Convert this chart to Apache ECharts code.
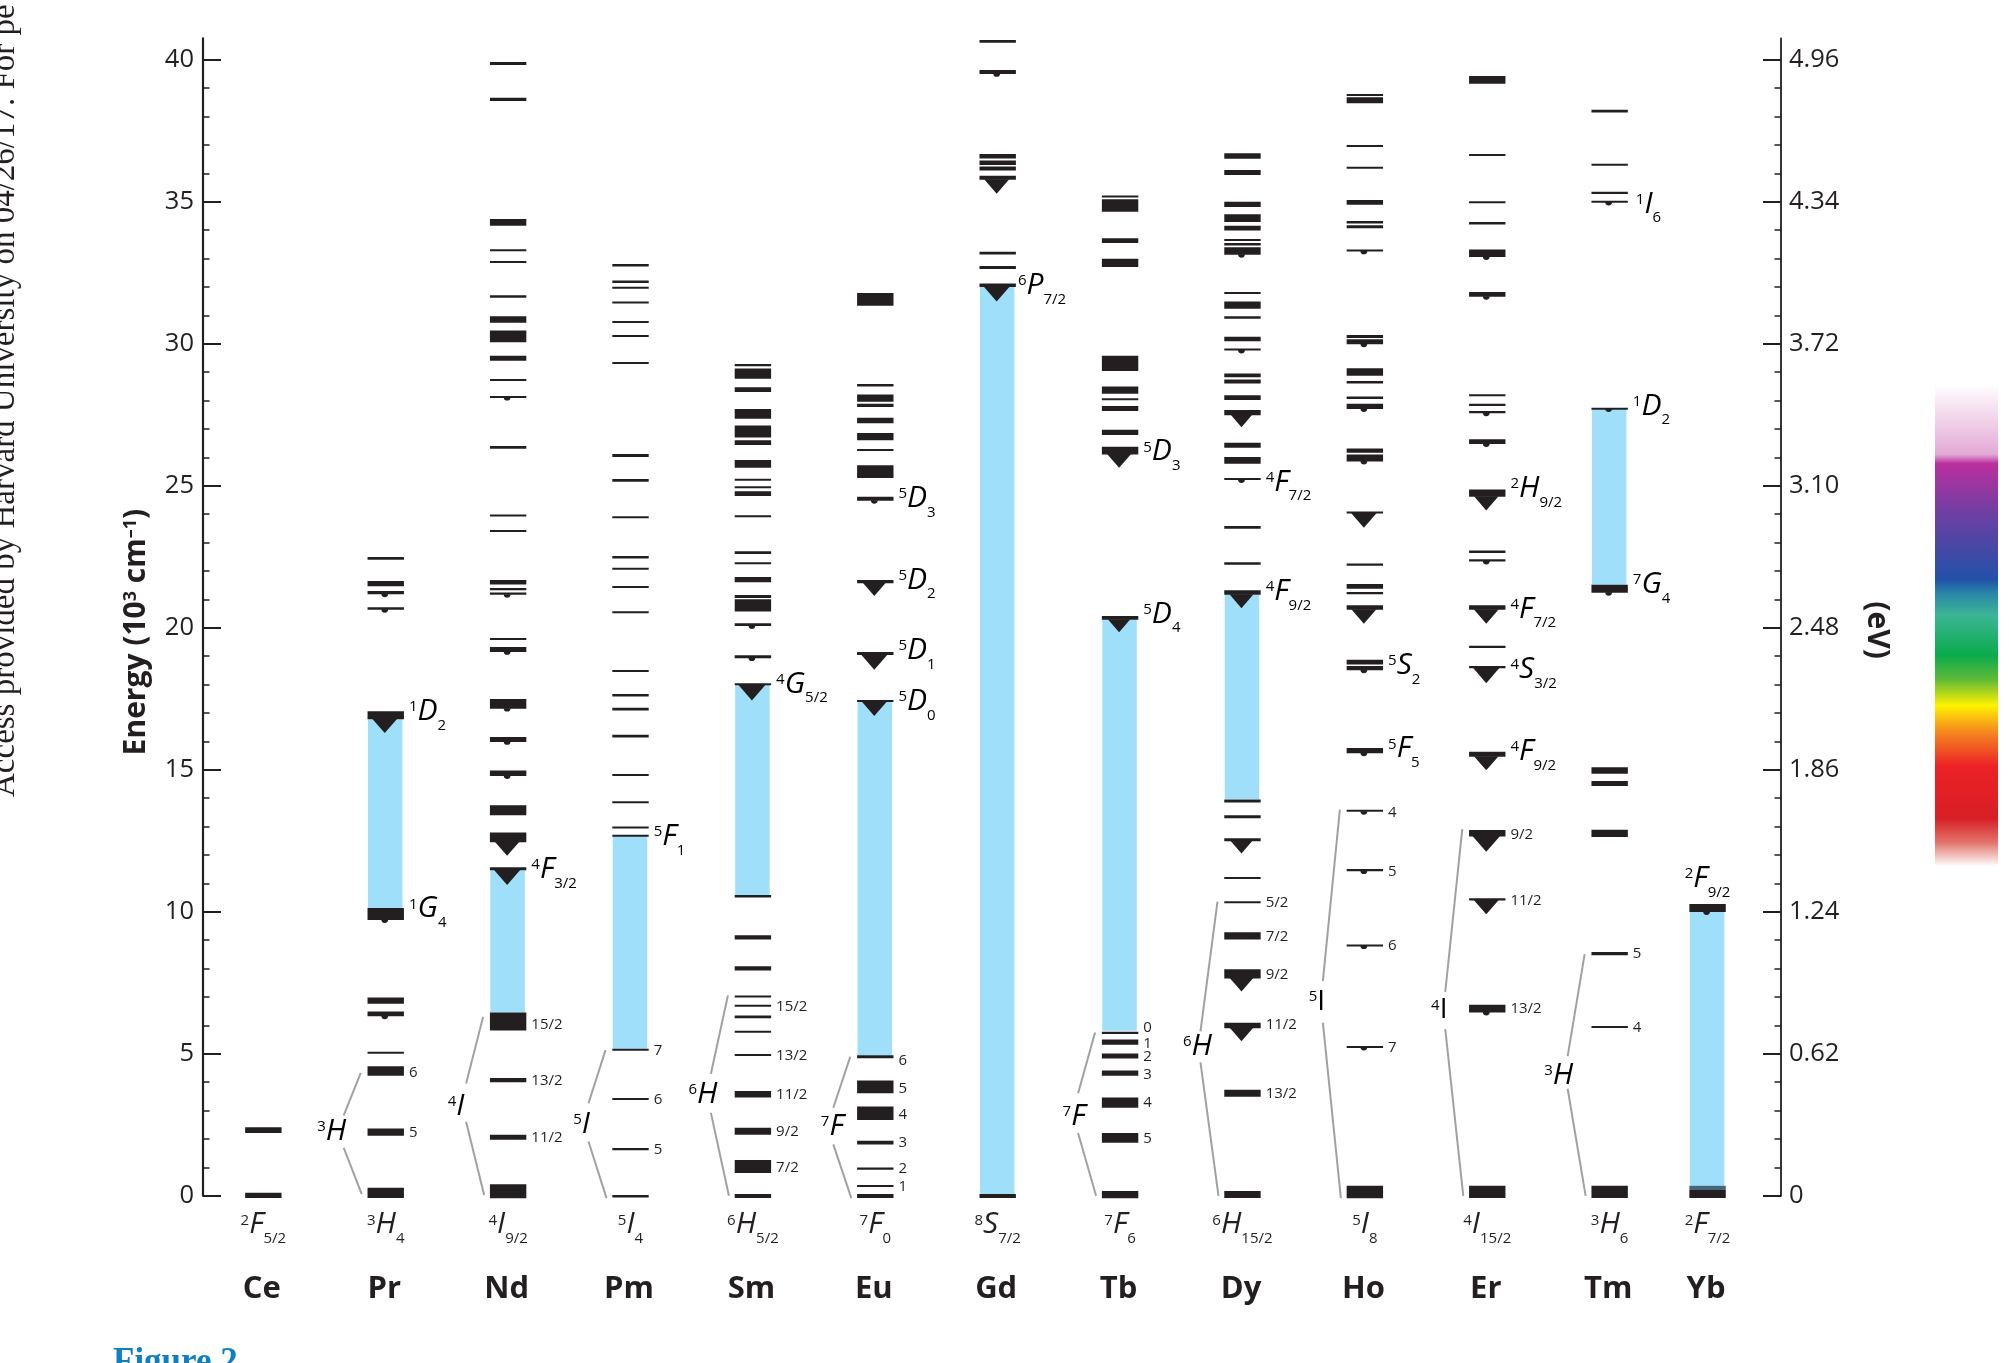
<!DOCTYPE html>
<html>
<head>
<meta charset="utf-8">
<title>Dieke diagram</title>
<script src="https://cdn.jsdelivr.net/npm/echarts@6/dist/echarts.min.js"></script>
<style>
  html, body { margin: 0; padding: 0; background: #fff; overflow: hidden; }
  #main { width: 2009px; height: 1363px; }
</style>
</head>
<body>
<div id="main"></div>
<script>
// energies in 10^3 cm-1, each level is [top, bottom] and an optional third item:
// 'dot' = small dot under the level, a number = tip energy of the triangle under it
const ceLevels = [[2.41, 2.21], [0.11, -0.08]];
const prLevels = [[22.49, 22.39], [21.65, 21.46], [21.29, 21.18, 'dot'], [20.72, 20.63, 'dot'],
  [17.06, 16.78, 16.29], [10.13, 9.71, 'dot'], [6.98, 6.76], [6.49, 6.32, 'dot'], [5.07, 5.01],
  [4.56, 4.23], [2.37, 2.11], [0.28, -0.08]];
const ndLevels = [[39.92, 39.81], [38.66, 38.55], [34.39, 34.15], [33.33, 33.29], [32.91, 32.86],
  [31.71, 31.62], [30.97, 30.74], [30.47, 30.05], [29.58, 29.40], [28.76, 28.69], [28.16, 28.10, 'dot'],
  [26.40, 26.30], [23.99, 23.95], [23.44, 23.38], [21.68, 21.52], [21.40, 21.32], [21.24, 21.16, 'dot'],
  [19.64, 19.58], [19.32, 19.15, 'dot'], [17.49, 17.15, 'dot'], [16.15, 15.98, 'dot'], [14.97, 14.78, 'dot'],
  [13.75, 13.40], [12.79, 12.45, 11.97], [11.57, 11.46, 10.94], [6.45, 5.82], [4.15, 4.00], [2.15, 1.97],
  [0.41, -0.09]];
const pmLevels = [[32.81, 32.72], [32.23, 32.14], [32.01, 31.95], [31.49, 31.45], [30.80, 30.75],
  [30.31, 30.27], [29.36, 29.31], [26.12, 26.01], [25.24, 25.14], [23.93, 23.88], [22.53, 22.44],
  [22.11, 22.05], [21.47, 21.42], [20.58, 20.54], [18.51, 18.46], [17.67, 17.58], [17.18, 17.09],
  [16.23, 16.14], [14.85, 14.80], [13.89, 13.83], [13.00, 12.94], [12.71, 12.65], [5.18, 5.12],
  [3.44, 3.37], [1.68, 1.60], [0.03, -0.06]];
const smLevels = [[29.29, 29.21], [29.13, 28.77], [28.47, 28.30], [27.70, 27.36], [27.12, 26.70],
  [26.60, 26.43], [25.91, 25.63], [25.25, 25.22], [24.98, 24.91], [24.81, 24.64], [23.96, 23.92],
  [22.69, 22.60], [22.31, 22.26], [21.79, 21.60], [21.15, 21.05], [21.00, 20.57], [20.16, 20.06, 'dot'],
  [19.03, 18.93, 'dot'], [18.05, 17.99, 17.44], [10.59, 10.50], [9.17, 9.02], [8.08, 7.93], [7.05, 6.99],
  [6.73, 6.69], [6.35, 6.25], [5.81, 5.75], [4.99, 4.92], [3.69, 3.46], [2.40, 2.15], [1.26, 0.80],
  [0.06, -0.08]];
const euLevels = [[31.79, 31.34], [28.58, 28.49], [28.21, 27.96], [27.89, 27.77], [27.39, 27.20],
  [26.86, 26.60], [26.29, 26.23], [25.72, 25.27], [24.61, 24.47, 'dot'], [21.68, 21.57, 21.12],
  [19.15, 19.04, 18.52], [17.46, 17.40, 16.89], [4.95, 4.84], [4.06, 3.61], [3.14, 2.67], [1.94, 1.81],
  [1.00, 0.92], [0.38, 0.34], [0.06, -0.08]];
const gdLevels = [[40.69, 40.60], [39.64, 39.50, 'dot'], [36.68, 36.52], [36.45, 36.29], [36.24, 36.10],
  [35.91, 35.77, 35.28], [33.24, 33.14], [32.74, 32.63], [32.12, 32.00, 31.49], [0.06, -0.08]];
const tbLevels = [[35.22, 35.16], [35.09, 34.65], [33.71, 33.55], [32.99, 32.70], [29.58, 29.04],
  [28.49, 28.24], [28.08, 28.02], [27.81, 27.63], [26.97, 26.79], [26.37, 26.10, 25.63], [20.41, 20.28, 19.84],
  [5.78, 5.70], [5.50, 5.32], [5.01, 4.83], [4.41, 4.23], [3.46, 3.10], [2.21, 1.87], [0.17, -0.09]];
const dyLevels = [[36.71, 36.51], [36.12, 35.94], [35.00, 34.81], [34.56, 34.29], [34.15, 33.99],
  [33.69, 33.62], [33.55, 33.46], [33.40, 33.13, 'dot'], [31.82, 31.76], [31.49, 31.23], [30.97, 30.88],
  [30.25, 30.09], [29.83, 29.76, 'dot'], [28.95, 28.82], [28.74, 28.60], [28.19, 28.02], [27.67, 27.48, 27.06],
  [26.51, 26.34], [26.01, 25.77], [25.27, 25.20, 'dot'], [23.58, 23.49], [22.31, 22.22], [21.32, 21.16, 20.69],
  [13.95, 13.85], [13.40, 13.29], [12.59, 12.48, 12.05], [11.22, 11.16], [10.37, 10.31], [9.28, 9.02],
  [7.98, 7.65, 7.19], [6.09, 5.90, 5.44], [3.73, 3.49], [0.17, -0.08]];
const hoLevels = [[38.79, 38.74], [38.68, 38.47], [37.00, 36.95], [36.23, 36.16], [35.06, 34.89],
  [34.32, 34.23], [34.17, 34.07], [33.32, 33.25, 'dot'], [30.31, 30.20], [30.16, 29.98, 'dot'], [29.14, 28.87],
  [28.69, 28.60], [28.14, 28.05], [27.89, 27.70, 'dot'], [26.31, 26.16], [26.10, 25.85, 'dot'], [24.09, 24.03, 23.52],
  [22.26, 22.18], [21.54, 21.37], [21.26, 21.18], [20.79, 20.63, 20.14], [18.87, 18.71], [18.65, 18.50, 'dot'],
  [15.77, 15.58, 'dot'], [13.59, 13.52, 'dot'], [11.51, 11.43, 'dot'], [8.85, 8.79, 'dot'], [5.27, 5.22, 'dot'],
  [0.35, -0.09]];
const erLevels = [[39.43, 39.15], [36.68, 36.63], [35.02, 34.97], [34.29, 34.20], [33.32, 33.05, 'dot'],
  [31.82, 31.65, 'dot'], [28.22, 28.16], [27.89, 27.81], [27.63, 27.55, 'dot'], [26.64, 26.47, 'dot'],
  [24.87, 24.61, 24.13], [22.72, 22.63], [22.41, 22.33, 'dot'], [20.79, 20.63, 20.14], [19.37, 19.29],
  [18.65, 18.57, 18.05], [15.63, 15.46, 14.98], [12.88, 12.65, 12.11], [10.48, 10.40, 9.91], [6.73, 6.45, 'dot'],
  [0.35, -0.08]];
const tmLevels = [[38.24, 38.14], [36.34, 36.27], [35.35, 35.27], [35.03, 34.97, 'dot'], [27.75, 27.70, 'dot'],
  [21.51, 21.23, 'dot'], [15.09, 14.86], [14.60, 14.43], [12.89, 12.63], [8.58, 8.47], [5.98, 5.93], [0.35, -0.08]];
const ybLevels = [[10.27, 9.99, 'dot'], [0.20, -0.08]];

const elements = ['Ce', 'Pr', 'Nd', 'Pm', 'Sm', 'Eu', 'Gd', 'Tb', 'Dy', 'Ho', 'Er', 'Tm', 'Yb'];
const elementSlots = [0, 1, 2, 3, 4, 5, 6, 7, 8, 9, 10, 11, 11.8];
const elementLevels = [ceLevels, prLevels, ndLevels, pmLevels, smLevels, euLevels, gdLevels, tbLevels,
  dyLevels, hoLevels, erLevels, tmLevels, ybLevels];
// ground state term of each element: multiplicity, letter, J
const groundTerms = [['2', 'F', '5/2'], ['3', 'H', '4'], ['4', 'I', '9/2'], ['5', 'I', '4'], ['6', 'H', '5/2'],
  ['7', 'F', '0'], ['8', 'S', '7/2'], ['7', 'F', '6'], ['6', 'H', '15/2'], ['5', 'I', '8'], ['4', 'I', '15/2'],
  ['3', 'H', '6'], ['2', 'F', '7/2']];

// blue gaps: element, top, bottom
const gapBands = [['Pr', 16.78, 10.1], ['Nd', 11.46, 6.45], ['Pm', 12.68, 5.18], ['Sm', 18.0, 10.57],
  ['Eu', 17.42, 4.95], ['Gd', 32.0, 0.06], ['Tb', 20.3, 5.81], ['Dy', 21.16, 13.97], ['Tm', 27.72, 21.51],
  ['Yb', 9.99, 0.35]];
const ybOverlap = ['Yb', 0.35, 0.2];

// excited state terms next to the levels: element, multiplicity, letter, J, energy, nudge
const excitedTerms = [['Pr', '1', 'D', '2', 17.09], ['Pr', '1', 'G', '4', 10.14], ['Nd', '4', 'F', '3/2', 11.53],
  ['Pm', '5', 'F', '1', 12.68], ['Sm', '4', 'G', '5/2', 18.05], ['Eu', '5', 'D', '3', 24.58], ['Eu', '5', 'D', '2', 21.71],
  ['Eu', '5', 'D', '1', 19.23], ['Eu', '5', 'D', '0', 17.44], ['Gd', '6', 'P', '7/2', 32.08, -3], ['Tb', '5', 'D', '3', 26.23],
  ['Tb', '5', 'D', '4', 20.52], ['Dy', '4', 'F', '7/2', 25.16], ['Dy', '4', 'F', '9/2', 21.32], ['Ho', '5', 'S', '2', 18.71],
  ['Ho', '5', 'F', '5', 15.77], ['Er', '2', 'H', '9/2', 24.94], ['Er', '4', 'F', '7/2', 20.69], ['Er', '4', 'S', '3/2', 18.57],
  ['Er', '4', 'F', '9/2', 15.68], ['Tm', '1', 'I', '6', 34.95, 3], ['Tm', '1', 'D', '2', 27.84], ['Tm', '7', 'G', '4', 21.56]];
const ybUpperTerm = ['Yb', '2', 'F', '9/2', 11.2];

// J values of the low multiplets: element, text, energy
const jLabels = [['Pr', '6', 4.33], ['Pr', '5', 2.23], ['Nd', '15/2', 6.02], ['Nd', '13/2', 4.06], ['Nd', '11/2', 2.03],
  ['Pm', '7', 5.10], ['Pm', '6', 3.38], ['Pm', '5', 1.61], ['Sm', '15/2', 6.67], ['Sm', '13/2', 4.92], ['Sm', '11/2', 3.55],
  ['Sm', '9/2', 2.27], ['Sm', '7/2', 1.0], ['Eu', '6', 4.76], ['Eu', '5', 3.77], ['Eu', '4', 2.87], ['Eu', '3', 1.86],
  ['Eu', '2', 0.97], ['Eu', '1', 0.32], ['Tb', '0', 5.90], ['Tb', '1', 5.35], ['Tb', '2', 4.89], ['Tb', '3', 4.26],
  ['Tb', '4', 3.27], ['Tb', '5', 2.0], ['Dy', '5/2', 10.33], ['Dy', '7/2', 9.13], ['Dy', '9/2', 7.78], ['Dy', '11/2', 6.01],
  ['Dy', '13/2', 3.61], ['Ho', '4', 13.49], ['Ho', '5', 11.42], ['Ho', '6', 8.81], ['Ho', '7', 5.21], ['Er', '9/2', 12.72],
  ['Er', '11/2', 10.39], ['Er', '13/2', 6.59], ['Tm', '5', 8.54], ['Tm', '4', 5.92]];

// multiplet brackets: element, multiplicity, letter, top, upper knee, lower knee, bottom, label energy, label offset
const multiplets = [['Pr', '3', 'H', 4.33, 2.83, 1.69, 0.06, 2.3, -54], ['Nd', '4', 'I', 6.3, 3.95, 2.61, 0.03, 3.18, -52],
  ['Pm', '5', 'I', 5.13, 3.26, 1.91, -0.08, 2.54, -49], ['Sm', '6', 'H', 7.05, 4.3, 2.92, 0, 3.61, -50],
  ['Eu', '7', 'F', 4.9, 3.1, 1.81, -0.08, 2.49, -43], ['Tb', '7', 'F', 5.75, 3.61, 2.21, 0, 2.84, -46],
  ['Dy', '6', 'H', 10.36, 5.79, 4.7, 0, 5.29, -45], ['Ho', '5', 'I', 13.6, 7.56, 6.1, -0.08, 6.87, -48],
  ['Er', '4', 'I', 12.91, 7.18, 5.87, 0, 6.56, -48], ['Tm', '3', 'H', 8.51, 4.92, 3.77, 0, 4.29, -51]];
const uprightMultiplets = ['Ho', 'Er'];

const energyTicks = [0, 5, 10, 15, 20, 25, 30, 35, 40];
const energyMinorTicks = [1, 2, 3, 4, 6, 7, 8, 9, 11, 12, 13, 14, 16, 17, 18, 19, 21, 22, 23, 24, 26, 27, 28, 29,
  31, 32, 33, 34, 36, 37, 38, 39];
const evTicks = [0, 0.62, 1.24, 1.86, 2.48, 3.10, 3.72, 4.34, 4.96];
const evMinorTicks = energyMinorTicks.map(function (e) { return e * 0.124; });
const energyMax = 40.75;
const evMax = energyMax * 0.124;

// visible spectrum strip: energy range and colour stops
const spectrumRange = [28.6, 11.6];
const spectrumStops = [[0, '#ffffff'], [0.147, '#e3a9d5'], [0.166, '#bb2f9e'], [0.267, '#6f3fa3'], [0.406, '#2251a8'],
  [0.435, '#2a87a8'], [0.48, '#3cb596'], [0.563, '#0aab4b'], [0.613, '#5fba37'], [0.667, '#fff200'], [0.72, '#f58a1f'],
  [0.793, '#ec2226'], [0.9, '#d81e25'], [0.95, '#e2726a'], [1, '#ffffff']];

const ink = '#231f20';
const barWidth = 36.4;
const bandWidth = 34.5;
const slotOf = function (name) { return elementSlots[elements.indexOf(name)]; };

const termRich = {
  s: { fontFamily: 'Open Sans', fontSize: 15, height: 33, lineHeight: 33, verticalAlign: 'top', color: ink },
  t: { fontFamily: 'Open Sans', fontStyle: 'italic', fontSize: 30, height: 42, lineHeight: 42, color: ink },
  r: { fontFamily: 'Open Sans', fontSize: 28, height: 42, lineHeight: 42, color: ink },
  b: { fontFamily: 'Open Sans', fontSize: 15, height: 14, lineHeight: 14, verticalAlign: 'bottom', color: ink },
  el: { fontFamily: 'Open Sans', fontWeight: 'bold', fontSize: 31, lineHeight: 87, padding: [0, 3, 0, 0], color: ink }
};
function termText(sup, letter, sub, upright) {
  return '{s|' + sup + '}{' + (upright ? 'r' : 't') + '|' + letter + '}' + (sub ? '{b|' + sub + '}' : '');
}

const levelRows = [];
elementLevels.forEach(function (rows, i) {
  rows.forEach(function (r) { levelRows.push([elementSlots[i], r[0], r[1], r[2]]); });
});

var myChart = echarts.init(document.getElementById('main'), null, { renderer: 'canvas' });
var xMin = -0.493, xMax = 12.4;

function yAxisBase(position, max, extra) {
  return Object.assign({
    type: 'value', position: position, min: 0, max: max, splitLine: { show: false }
  }, extra);
}

var option = {
  animation: false,
  backgroundColor: '#fff',
  tooltip: { show: false },
  grid: { left: 203, right: 228, top: 38.4, bottom: 167.2, containLabel: false },
  xAxis: {
    type: 'value', min: xMin, max: xMax,
    axisLine: { show: false }, axisTick: { show: false }, splitLine: { show: false },
    axisLabel: {
      show: true, margin: 8, interval: 0, hideOverlap: false,
      customValues: elementSlots, rich: termRich,
      formatter: function (v) {
        var i = elementSlots.indexOf(v);
        if (i < 0) return '';
        return termText(groundTerms[i][0], groundTerms[i][1], groundTerms[i][2]) + '\n{el|' + elements[i] + '}';
      }
    }
  },
  yAxis: [
    yAxisBase('left', energyMax, {
      name: '{n|Energy (10}{u|3}{n| cm}{u|\u20131}{n|)}',
      nameLocation: 'middle', nameRotate: 90, nameGap: 50,
      nameTextStyle: {
        padding: [0, 30, 0, 0],
        rich: {
          n: { fontFamily: 'Open Sans', fontWeight: 'bold', fontSize: 30, height: 34, lineHeight: 34, color: ink },
          u: { fontFamily: 'Open Sans', fontWeight: 'bold', fontSize: 18, height: 24, lineHeight: 24, verticalAlign: 'top', color: ink }
        }
      },
      axisLine: { show: true, onZero: false, lineStyle: { color: ink, width: 2.2 } },
      axisTick: { show: true, inside: true, length: 18, customValues: energyTicks, lineStyle: { color: ink, width: 2 } },
      axisLabel: {
        show: true, margin: 9, customValues: energyTicks,
        fontFamily: 'Open Sans', fontSize: 25.5, color: ink
      }
    }),
    yAxisBase('left', energyMax, {
      axisLine: { show: false, onZero: false },
      axisTick: { show: true, inside: true, length: 6.5, customValues: energyMinorTicks, lineStyle: { color: ink, width: 1.5 } },
      axisLabel: { show: false }
    }),
    yAxisBase('right', evMax, {
      name: '(eV)', nameLocation: 'middle', nameRotate: -90, nameGap: 81,
      nameTextStyle: { padding: [0, 0, 0, 26], fontFamily: 'Open Sans', fontWeight: 'bold', fontSize: 30, color: ink },
      axisLine: { show: true, onZero: false, lineStyle: { color: ink, width: 1.8 } },
      axisTick: { show: true, inside: true, length: 18, customValues: evTicks, lineStyle: { color: ink, width: 2 } },
      axisLabel: {
        show: true, margin: 8, customValues: evTicks,
        fontFamily: 'Open Sans', fontSize: 25.5, color: ink,
        formatter: function (v) { return v === 0 ? '0' : v.toFixed(2); }
      }
    }),
    yAxisBase('right', evMax, {
      axisLine: { show: false, onZero: false },
      axisTick: { show: true, inside: true, length: 6.5, customValues: evMinorTicks, lineStyle: { color: ink, width: 1.5 } },
      axisLabel: { show: false }
    })
  ],
  series: [
    {
      // blue gap bars
      type: 'custom', coordinateSystem: 'cartesian2d', silent: true, z: 1,
      data: gapBands.map(function (b) { return [slotOf(b[0]), b[1], b[2]]; }),
      encode: { x: 0, y: [1, 2] },
      renderItem: function (params, api) {
        var a = api.coord([api.value(0), api.value(1)]);
        var b = api.coord([api.value(0), api.value(2)]);
        return {
          type: 'rect',
          shape: { x: a[0] - bandWidth / 2 - 0.5, y: a[1], width: bandWidth, height: b[1] - a[1] },
          style: { fill: '#9fdffa' }
        };
      }
    },
    {
      // energy levels with their dots and triangles
      type: 'custom', coordinateSystem: 'cartesian2d', silent: true, z: 2,
      data: levelRows.map(function (r) { return [r[0], r[1], r[2]]; }),
      encode: { x: 0, y: [1, 2] },
      renderItem: function (params, api) {
        var mark = levelRows[params.dataIndex][3];
        var a = api.coord([api.value(0), api.value(1)]);
        var b = api.coord([api.value(0), api.value(2)]);
        var kids = [{
          type: 'rect',
          shape: { x: a[0] - barWidth / 2, y: a[1], width: barWidth, height: Math.max(b[1] - a[1], 2) },
          style: { fill: ink }
        }];
        if (mark === 'dot') {
          kids.push({
            type: 'sector',
            shape: { cx: a[0] - 1, cy: b[1] - 0.5, r0: 0, r: 3.4, startAngle: 0, endAngle: Math.PI, clockwise: true },
            style: { fill: ink }
          });
        } else if (typeof mark === 'number') {
          var tip = api.coord([api.value(0), mark]);
          var half = (tip[1] - b[1]) * 0.9;
          kids.push({
            type: 'polygon',
            shape: { points: [[a[0] - 1 - half, b[1] - 0.5], [a[0] - 1 + half, b[1] - 0.5], [a[0] - 1, tip[1]]] },
            style: { fill: ink }
          });
        }
        return { type: 'group', children: kids };
      }
    },
    {
      // slate strip where the blue band overlaps the Yb ground level
      type: 'custom', coordinateSystem: 'cartesian2d', silent: true, z: 3,
      data: [[slotOf(ybOverlap[0]), ybOverlap[1], ybOverlap[2]]],
      encode: { x: 0, y: [1, 2] },
      renderItem: function (params, api) {
        var a = api.coord([api.value(0), api.value(1)]);
        var b = api.coord([api.value(0), api.value(2)]);
        return {
          type: 'rect',
          shape: { x: a[0] - barWidth / 2, y: a[1], width: barWidth, height: b[1] - a[1] },
          style: { fill: '#46657a' }
        };
      }
    },
    {
      // multiplet brackets and their term letters
      type: 'custom', coordinateSystem: 'cartesian2d', silent: true, z: 2,
      data: multiplets.map(function (m) { return [slotOf(m[0]), m[3], m[4], m[5], m[6], m[7]]; }),
      encode: { x: 0, y: [1, 4] },
      renderItem: function (params, api) {
        var m = multiplets[params.dataIndex];
        var slot = api.value(0);
        var pt = function (dim, dx) {
          var c = api.coord([slot, api.value(dim)]);
          return [c[0] + dx, c[1]];
        };
        var line = function (p, q) {
          return {
            type: 'line',
            shape: { x1: p[0], y1: p[1], x2: q[0], y2: q[1] },
            style: { stroke: '#a0a1a3', lineWidth: 2, fill: null }
          };
        };
        var l = pt(5, m[8]);
        return {
          type: 'group',
          children: [
            line(pt(1, -25), pt(2, -42)),
            line(pt(3, -42), pt(4, -24)),
            {
              type: 'text', x: l[0], y: l[1] + 1,
              style: {
                text: termText(m[1], m[2], '', uprightMultiplets.indexOf(m[0]) >= 0), rich: termRich,
                align: 'center', verticalAlign: 'middle'
              }
            }
          ]
        };
      }
    },
    {
      // excited terms beside the levels, the Yb one sits above its bar
      type: 'custom', coordinateSystem: 'cartesian2d', silent: true, z: 4,
      data: excitedTerms.concat([ybUpperTerm]).map(function (t) { return [slotOf(t[0]), t[4]]; }),
      encode: { x: 0, y: 1 },
      renderItem: function (params, api) {
        var t = excitedTerms.concat([ybUpperTerm])[params.dataIndex];
        var c = api.coord([api.value(0), api.value(1)]);
        var centred = t === ybUpperTerm;
        return {
          type: 'text',
          x: centred ? c[0] : c[0] + barWidth / 2 + 5 + (t[5] || 0),
          y: c[1] + 1,
          style: {
            text: termText(t[1], t[2], t[3]), rich: termRich,
            align: centred ? 'center' : 'left', verticalAlign: 'middle'
          }
        };
      }
    },
    {
      // small J numbers
      type: 'custom', coordinateSystem: 'cartesian2d', silent: true, z: 4,
      data: jLabels.map(function (j) { return [slotOf(j[0]), j[2]]; }),
      encode: { x: 0, y: 1 },
      renderItem: function (params, api) {
        var c = api.coord([api.value(0), api.value(1)]);
        return {
          type: 'text', x: c[0] + barWidth / 2 + 5, y: c[1],
          style: {
            text: jLabels[params.dataIndex][1], fontFamily: 'Open Sans', fontSize: 15, fill: ink,
            align: 'left', verticalAlign: 'middle'
          }
        };
      }
    },
    {
      // visible spectrum strip beyond the eV axis
      type: 'custom', coordinateSystem: 'cartesian2d', silent: true, z: 1,
      data: [[xMax, spectrumRange[0], spectrumRange[1]]],
      encode: { x: 0, y: [1, 2] },
      renderItem: function (params, api) {
        var a = api.coord([api.value(0), api.value(1)]);
        var b = api.coord([api.value(0), api.value(2)]);
        return {
          type: 'rect',
          shape: { x: a[0] + 154, y: a[1], width: 63, height: b[1] - a[1] },
          style: {
            fill: new echarts.graphic.LinearGradient(0, 0, 0, 1, spectrumStops.map(function (s) {
              return { offset: s[0], color: s[1] };
            }))
          }
        };
      }
    }
  ],
  graphic: {
    elements: [
      {
        type: 'text', x: 5, y: 797, rotation: Math.PI / 2, silent: true,
        style: {
          text: 'Access provided by Harvard University on 04/26/17. For pe',
          fontFamily: 'Liberation Serif', fontSize: 33, fill: ink, align: 'left', verticalAlign: 'middle'
        }
      },
      {
        type: 'text', x: 113, y: 1345, silent: true,
        style: {
          text: 'Figure 2',
          fontFamily: 'Liberation Serif', fontWeight: 'bold', fontSize: 35, fill: '#0f7fc0', align: 'left', verticalAlign: 'top'
        }
      }
    ]
  }
};

option && myChart.setOption(option);
</script>
</body>
</html>
